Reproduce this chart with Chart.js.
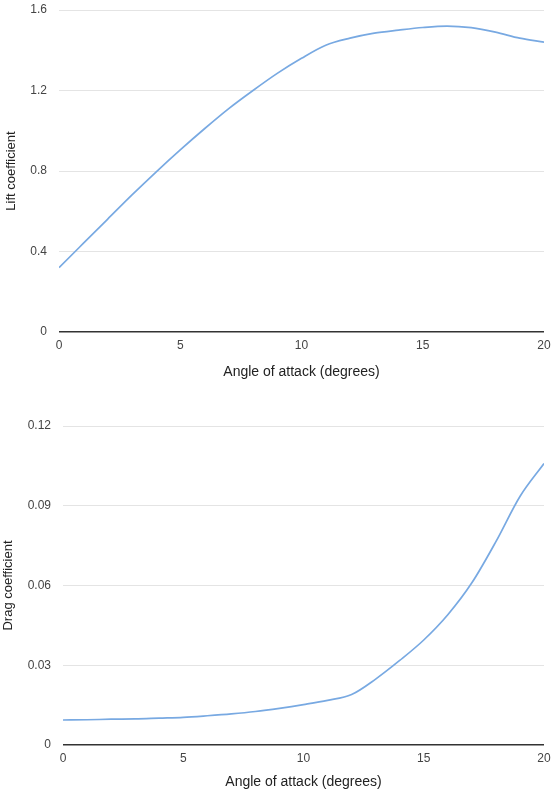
<!DOCTYPE html>
<html>
<head>
<meta charset="utf-8">
<script src="https://cdn.jsdelivr.net/npm/chart.js@4/dist/chart.umd.min.js"></script>
<style>
  html, body { margin: 0; padding: 0; background: #fff; }
  .box { position: relative; width: 560px; height: 398px; }
</style>
</head>
<body>
<div class="box"><canvas id="lift"></canvas></div>
<div class="box"><canvas id="drag"></canvas></div>
<script>
// angle of attack in degrees
const angles = [0, 1, 2, 3, 4, 5, 6, 7, 8, 9, 10, 11, 12, 13, 14, 15, 16, 17, 18, 19, 20];
const liftCoef = [0.32, 0.44, 0.56, 0.68, 0.795, 0.905, 1.01, 1.11, 1.20, 1.285, 1.36, 1.425, 1.46, 1.485, 1.50, 1.513, 1.52, 1.512, 1.49, 1.46, 1.44];
const dragCoef = [0.0094, 0.0095, 0.0097, 0.0098, 0.0101, 0.0104, 0.0110, 0.0117, 0.0126, 0.0138, 0.0152, 0.0168, 0.0190, 0.0248, 0.0318, 0.0395, 0.0490, 0.0610, 0.0765, 0.0935, 0.1059];
const liftTicks = [0, 0.4, 0.8, 1.2, 1.6];
const dragTicks = [0, 0.03, 0.06, 0.09, 0.12];

const FONT = "'Liberation Sans', Arial, sans-serif";
const TEXT = '#444';

function makeChart(id, values, yTicks, yTitle, opt) {
  const ctx = document.getElementById(id).getContext('2d');
  return new Chart(ctx, {
    type: 'line',
    data: {
      datasets: [{
        data: angles.map((a, i) => ({ x: a, y: values[i] })),
        borderColor: '#78a9e2',
        borderWidth: 1.7,
        pointRadius: 0,
        cubicInterpolationMode: 'monotone',
        fill: false
      }]
    },
    options: {
      responsive: true,
      maintainAspectRatio: false,
      animation: false,
      layout: { padding: { top: opt.top, right: 16, left: 0, bottom: 0 } },
      plugins: { legend: { display: false }, tooltip: { enabled: false } },
      scales: {
        x: {
          type: 'linear',
          min: 0, max: 20,
          grid: { display: false, drawTicks: false },
          border: { display: false },
          ticks: { stepSize: 5, padding: 6, color: TEXT, font: { family: FONT, size: 12 } },
          title: { display: true, text: 'Angle of attack (degrees)', color: '#222',
                   font: { family: FONT, size: 14 }, padding: { top: 0, bottom: opt.xTitlePad } },
          afterFit: s => { s.height = opt.xHeight; }
        },
        y: {
          min: yTicks[0], max: yTicks[yTicks.length - 1],
          afterBuildTicks: s => { s.ticks = yTicks.map(v => ({ value: v })); },
          grid: {
            drawTicks: true,
            tickLength: 10,
            tickColor: 'rgba(0,0,0,0)',
            color: c => c.tick && c.tick.value === 0 ? '#333' : '#e4e4e4',
            lineWidth: c => c.tick && c.tick.value === 0 ? 1.6 : 1
          },
          border: { display: false },
          ticks: {
            padding: 2, color: TEXT, font: { family: FONT, size: 12 },
            callback: v => String(+v.toFixed(2))
          },
          title: { display: true, text: yTitle, color: '#222',
                   font: { family: FONT, size: 13 }, padding: { top: opt.yTitlePad, bottom: 0 } },
          afterFit: s => { s.width = opt.yWidth; }
        }
      }
    }
  });
}

makeChart('lift', liftCoef, liftTicks, 'Lift coefficient',
  { top: 10, xHeight: 66, xTitlePad: 17, yWidth: 59, yTitlePad: 4 });
makeChart('drag', dragCoef, dragTicks, 'Drag coefficient',
  { top: 28, xHeight: 51, xTitlePad: 5, yWidth: 63, yTitlePad: 1 });
</script>
</body>
</html>
